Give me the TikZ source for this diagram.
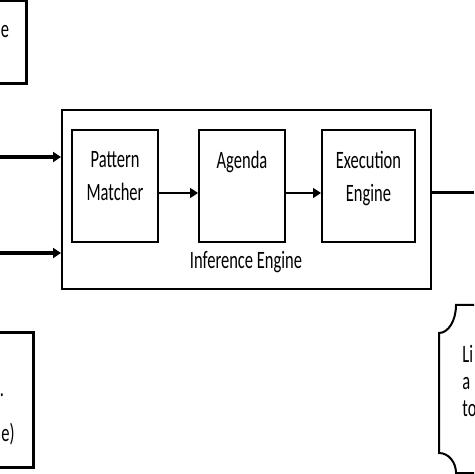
\documentclass[tikz,border=0pt]{standalone}
\usepackage{fontspec}
\setmainfont{Carlito}[FakeStretch=0.66]
\usetikzlibrary{arrows.meta,positioning}

\begin{document}
\begin{tikzpicture}[x=0.5pt, y=-0.5pt,
    blk/.style={draw, line width=1pt, minimum height=56pt, inner sep=0pt},
    lbl/.style={font=\fontsize{12.5}{16.5}\selectfont, align=center, inner sep=0pt},
    thin arr/.style={line width=0.8pt, -{Triangle[length=4pt,width=5pt]}},
    thick arr/.style={line width=2pt, -{Triangle[length=4pt,width=5pt]}}]
    \useasboundingbox (0,0) rectangle (474,474);
    \clip (0,0) rectangle (474,474);

    % Side boxes
    \node[draw, line width=1.5pt, minimum width=40pt, minimum height=41.5pt] (kb) at (-14,42.5) {};
    \node[lbl, anchor=base] (kbt) at (5,38) {e};
    \node[draw, line width=1.5pt, minimum width=40pt, minimum height=67.5pt] (fb) at (-7,399.5) {};
    \node[lbl, anchor=base] (fbt1) at (2,396) {.};
    \node[lbl, anchor=base] (fbt2) at (8,441) {e)};

    % Inference engine
    \node[draw, line width=1pt, minimum width=184.5pt, minimum height=89.5pt] (ie) at (246.5,199.5) {};
    \node[blk, minimum width=43pt] (pm) at (115,186) {};
    \node[blk, minimum width=43pt] (ag) at (242,186) {};
    \node[blk, minimum width=46.5pt] (ex) at (368.5,186) {};
    \node[lbl, anchor=north, below=11pt of pm.north] (pmt) {Pattern\\Matcher};
    \node[lbl, anchor=north, below=11pt of ag.north] (agt) {Agenda};
    \node[lbl, anchor=north, below=11pt of ex.north] (ext) {Execution\\Engine};
    \node[lbl] (iet) at (246,262) {Inference Engine};

    % Connectors
    \draw[thin arr] ([yshift=-3.5pt]pm.east) -- ([yshift=-3.5pt]ag.west);
    \draw[thin arr] ([yshift=-3.5pt]ag.east) -- ([yshift=-3.5pt]ex.west);
    \coordinate (in1) at (0,157);
    \coordinate (in2) at (0,253);
    \coordinate (out) at (474,193);
    \draw[thick arr] (in1) -- (in1 -| ie.west);
    \draw[thick arr] (in2) -- (in2 -| ie.west);
    \draw[line width=1.5pt] (out -| ie.east) -- (out);

    % Library plaque
    \draw[line width=1pt] (500,305) -- (456,305) .. controls (456,320.5) and (448.4,333) .. (439,333)
        -- (439,453) .. controls (448.4,453) and (456,462) .. (456,473) -- (500,473);
    \node[lbl, font=\fontsize{12.5}{13.5}\selectfont, align=left, anchor=north west] (lib) at (462,345) {Li\\a\\to};
\end{tikzpicture}
\end{document}
